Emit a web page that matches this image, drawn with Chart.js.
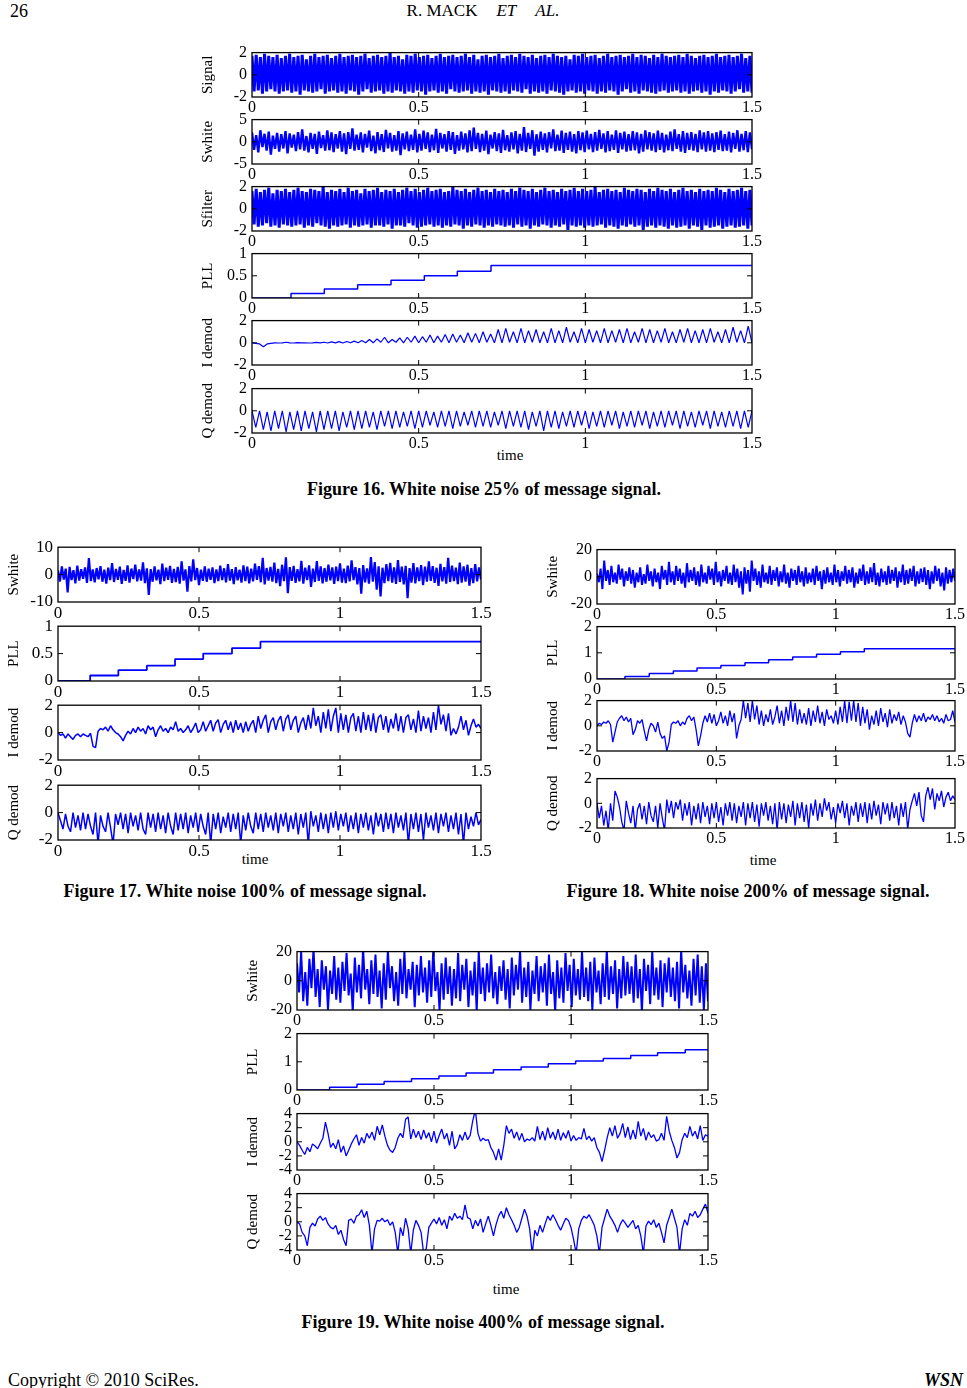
<!DOCTYPE html>
<html>
<head>
<meta charset="utf-8">
<script src="https://cdn.jsdelivr.net/npm/chart.js@4.4.0/dist/chart.umd.min.js"></script>
<style>
  html, body { margin: 0; padding: 0; background: #fff; }
  body { width: 967px; height: 1388px; position: relative; overflow: hidden;
         font-family: "Liberation Serif", "Times New Roman", serif; color: #000; }
  canvas { position: absolute; }
  .t { position: absolute; white-space: nowrap; line-height: 1; }
  .c { transform: translateX(-50%); }
  .cap { font-weight: bold; font-size: 18px; }
  .time { font-size: 15px; }
  .gap { margin-left: 19px; font-style: italic; }
</style>
</head>
<body>
<div class="t" style="left:10px;top:2px;font-size:18px">26</div>
<div class="t c" style="left:483px;top:2px;font-size:17px">R. MACK<span class="gap">ET</span><span class="gap">AL.</span></div>

<div class="t c time" style="left:510px;top:448px">time</div>
<div class="t c cap" style="left:484px;top:480px">Figure 16. White noise 25% of message signal.</div>

<div class="t c time" style="left:255px;top:852px">time</div>
<div class="t c cap" style="left:245px;top:882px">Figure 17. White noise 100% of message signal.</div>

<div class="t c time" style="left:763px;top:853px">time</div>
<div class="t c cap" style="left:748px;top:882px">Figure 18. White noise 200% of message signal.</div>

<div class="t c time" style="left:506px;top:1282px">time</div>
<div class="t c cap" style="left:483px;top:1313px">Figure 19. White noise 400% of message signal.</div>

<div class="t" style="left:8px;top:1371px;font-size:18px">Copyright © 2010 SciRes.</div>
<div class="t" style="left:924px;top:1371px;font-size:18px;font-weight:bold;font-style:italic">WSN</div>

<script>
// ---------- data (time axis 0..1.5 s, samples evenly spaced) ----------

// Figure 16
const sig16 = [
  1.7,-1.5,1.8,-1.4,1.6,-1.7,1.9,-1.5,1.7,-1.3,1.6,-1.5,1.8,-1.7,1.5,-1.5,1.7,-1.4,1.9,-1.6,
  1.6,-1.5,1.7,-1.8,1.8,-1.4,1.4,-1.5,1.7,-1.6,1.9,-1.5,1.6,-1.3,1.7,-1.7,1.8,-1.5,1.5,-1.4,
  1.7,-1.6,1.9,-1.5,1.6,-1.7,1.7,-1.4,1.8,-1.5,1.6,-1.8,1.7,-1.5,1.9,-1.3,1.5,-1.6,1.7,-1.5,
  1.8,-1.4,1.6,-1.7,1.7,-1.5,2.0,-1.6,1.6,-1.4,1.7,-1.5,1.4,-1.7,1.8,-1.5,1.7,-1.6,1.9,-1.4,
  1.6,-1.5,1.7,-1.8,1.8,-1.5,1.5,-1.4,1.7,-1.6,1.9,-1.5,1.6,-1.7,1.7,-1.3,1.8,-1.5,1.6,-1.6,
  1.7,-1.5,1.9,-1.4,1.6,-1.7,1.8,-1.5,1.4,-1.6,1.7,-1.5,1.8,-1.8,1.6,-1.4,1.7,-1.5,1.9,-1.6,
  1.5,-1.5,1.7,-1.7,1.8,-1.4,1.6,-1.5,1.9,-1.6,1.7,-1.3,1.6,-1.7,1.8,-1.5,1.5,-1.6,1.7,-1.5,
  1.8,-1.7,1.6,-1.4,1.9,-1.5,1.7,-1.6,1.6,-1.8,1.7,-1.5,1.4,-1.4,1.8,-1.6,1.7,-1.5,1.9,-1.7,
  1.6,-1.4,1.7,-1.5,1.8,-1.7,1.5,-1.5,1.7,-1.6,1.9,-1.4,1.6,-1.5,1.7,-1.8,1.8,-1.5,1.6,-1.3,
  1.7,-1.6,1.9,-1.5,1.6,-1.7,1.8,-1.4,1.7,-1.5,1.5,-1.6,1.8,-1.7,1.6,-1.5,1.9,-1.4,1.7,-1.6,
  1.6,-1.5,1.7,-1.4,1.8,-1.6,1.6,-1.5,1.9,-1.7,1.7,-1.5,1.5,-1.4,1.7,-1.6,1.8,-1.5,1.6,-1.8,
  1.7,-1.5,1.9,-1.6,1.6,-1.4,1.7,-1.5,1.8,-1.7,1.6,-1.5,1.7,-1.3,1.9,-1.6,1.5,-1.5,1.7,-1.6
];
const swhite16 = [
  2.1,-1.8,1.5,-2.4,2.6,-1.2,1.8,-2.0,2.3,-2.9,1.4,-1.6,2.0,-2.2,1.7,-1.5,2.4,-2.6,1.9,-1.3,
  1.6,-2.1,2.2,-1.7,2.8,-2.0,1.3,-2.4,2.0,-1.6,1.8,-2.7,2.3,-1.4,1.5,-2.0,2.6,-1.9,2.1,-2.3,
  1.7,-1.5,2.4,-2.2,1.9,-2.8,2.2,-1.6,3.0,-2.0,1.6,-1.8,2.1,-2.4,1.8,-1.3,2.5,-2.1,1.4,-2.6,
  2.2,-1.9,1.7,-2.3,2.7,-1.5,2.0,-2.2,1.5,-2.0,2.4,-3.0,1.9,-1.7,2.3,-2.1,1.6,-1.8,2.8,-2.4,
  1.8,-2.0,2.5,-1.6,2.1,-2.3,1.6,-1.9,2.9,-2.5,2.0,-1.5,1.7,-2.2,2.4,-1.8,2.2,-2.7,1.5,-2.0,
  2.3,-1.7,1.9,-2.4,2.6,-2.1,3.2,-1.6,2.0,-2.3,1.8,-2.0,2.5,-2.8,1.6,-1.5,2.2,-2.1,1.9,-2.5,
  2.7,-1.9,1.5,-2.2,2.1,-1.7,2.4,-2.6,1.8,-2.0,3.3,-2.3,2.0,-1.6,2.6,-3.1,1.7,-2.2,2.3,-1.8,
  1.9,-2.4,2.2,-1.5,2.8,-2.1,1.6,-2.0,2.5,-2.5,2.0,-1.8,2.3,-2.2,1.7,-2.6,2.4,-1.9,2.1,-2.3,
  2.5,-1.7,1.8,-2.3,2.2,-2.0,2.7,-1.6,1.9,-2.4,2.4,-2.1,1.6,-1.8,2.6,-2.5,2.0,-1.7,2.3,-2.2,
  1.7,-2.0,2.4,-1.9,2.1,-2.6,1.8,-2.2,2.6,-1.7,2.2,-2.0,1.9,-2.3,2.5,-1.8,2.0,-2.4,1.6,-1.9,
  2.3,-2.1,2.8,-1.6,1.7,-2.2,2.4,-2.5,2.0,-1.8,2.2,-2.0,1.8,-2.3,2.6,-1.7,2.1,-2.2,2.4,-2.0,
  1.9,-2.3,2.2,-1.8,2.5,-2.1,1.7,-2.0,2.3,-2.4,2.0,-1.6,2.6,-2.2,1.8,-1.9,2.4,-2.3,2.1,-1.7
];
const sfilt16 = [
  1.6,-1.4,1.8,-1.6,1.5,-1.5,1.7,-1.3,1.9,-1.6,1.4,-1.5,1.7,-1.7,1.6,-1.4,1.8,-1.5,1.5,-1.6,
  1.7,-1.5,1.9,-1.4,1.6,-1.7,1.5,-1.5,1.8,-1.6,1.7,-1.3,1.6,-1.5,2.0,-1.6,1.5,-1.8,1.7,-1.5,
  1.6,-1.6,1.8,-1.5,1.5,-1.4,1.9,-1.7,1.6,-1.5,1.7,-1.6,1.4,-1.5,1.8,-1.4,1.6,-1.7,1.7,-1.5,
  1.9,-1.5,1.5,-1.6,1.7,-1.4,1.6,-1.8,1.8,-1.5,1.5,-1.5,1.7,-1.6,1.9,-1.3,1.6,-1.5,1.8,-1.7,
  1.5,-1.6,1.7,-1.5,1.9,-1.4,1.6,-1.6,1.7,-1.5,1.8,-1.7,1.5,-1.5,1.6,-1.6,2.0,-1.4,1.7,-1.5,
  1.6,-1.8,1.8,-1.5,1.5,-1.6,1.7,-1.4,1.9,-1.5,1.6,-1.7,1.7,-1.5,1.5,-1.6,1.8,-1.4,1.6,-1.5,
  1.7,-1.6,1.5,-1.5,1.8,-1.7,1.6,-1.4,1.9,-1.6,1.7,-1.5,1.6,-1.8,1.8,-1.5,1.5,-1.6,1.7,-1.4,
  1.9,-1.5,1.6,-1.7,1.7,-1.5,1.5,-1.6,1.8,-1.4,1.6,-1.9,1.7,-1.5,1.9,-1.6,1.6,-1.5,1.8,-1.7,
  1.6,-1.5,1.7,-1.6,2.0,-1.5,1.5,-1.4,1.7,-1.7,1.8,-1.5,1.6,-1.6,1.7,-1.8,1.5,-1.5,1.9,-1.6,
  1.7,-1.4,1.6,-1.6,1.8,-1.5,1.7,-1.9,1.5,-1.6,1.8,-1.5,1.6,-1.7,1.9,-1.5,1.7,-1.6,1.6,-1.8,
  1.8,-1.5,1.5,-1.7,1.7,-1.6,1.9,-1.5,1.6,-1.8,1.7,-1.5,1.5,-1.6,1.8,-1.9,1.6,-1.5,1.7,-1.7,
  1.6,-1.6,1.9,-1.5,1.7,-1.8,1.5,-1.6,1.8,-1.5,1.6,-1.7,1.7,-1.6,1.9,-1.5,1.6,-1.8,1.7,-1.5
];
const pllT16 = [0, 0.117, 0.217, 0.317, 0.417, 0.517, 0.616, 0.717, 1.5];
const pllV16 = [0, 0.1, 0.2, 0.3, 0.4, 0.5, 0.6, 0.73, 0.73];
const idem16 = [
  0,-0.05,-0.1,-0.35,-0.1,-0.05,0,-0.02,0,0.05,0,-0.02,0.02,0,0,-0.02,0,0.03,0,0.05,-0.02,0.08,0,0.1,-0.02,0.12,0,
  0.15,0,0.2,0,0.3,0,0.35,0.05,0.5,0,0.3,0.05,0.45,
  0,0.5,0.05,0.6,0,0.55,0.05,0.7,0,0.6,0.05,0.75,0,
  0.8,0.05,0.7,0,0.9,0.05,0.85,0,1.0,0.05,0.8,0,1.2,0,
  1.3,0.05,1.0,0,1.3,0,1.1,0.05,1.2,0,1.0,0,1.3,
  0,1.1,0,1.4,0.05,1.0,0,1.3,0,1.2,0.05,1.1,0,
  1.3,0,1.1,0.05,1.2,0,1.3,0,1.0,0.05,1.3,0,1.2,
  0,1.1,0.05,1.3,0,1.0,0,1.2,0.05,1.3,0,1.1,0,
  1.2,0,1.3,0.05,1.0,0,1.2,0,1.4,0.05,1.1,0,1.5,0
];
const qdem16 = [
  0,-1.5,0,-1.7,-0.1,-1.8,0,-1.6,0,-1.9,-0.1,-1.7,0,-1.8,0,-1.6,-0.1,-1.9,0,-1.7,
  0,-1.6,0,-1.8,-0.1,-1.5,0,-1.7,0,-1.6,0,-1.5,-0.1,-1.7,0,-1.4,0,-1.6,0,-1.5,
  -0.1,-1.4,0,-1.6,0,-1.5,0,-1.3,-0.1,-1.5,0,-1.4,0,-1.6,0,-1.4,-0.1,-1.3,0,-1.5,
  0,-1.4,0,-1.5,-0.1,-1.3,0,-1.6,0,-1.4,0,-1.5,0,-1.7,-0.1,-1.4,0,-1.8,0,-1.5,
  0,-1.6,-0.1,-1.4,0,-1.5,0,-1.3,0,-1.6,-0.1,-1.4,0,-1.5,0,-1.3,0,-1.6,-0.1,-1.4,
  0,-1.5,0,-1.3,0,-1.6,-0.1,-1.4,0,-1.5,0,-1.3,0,-1.6,0,-1.4,-0.1,-1.5,0,-1.3,
  0,-1.6,0,-1.4,-0.1,-1.5,0,-1.4,0,-1.6,0,-1.5,0
];

// Figure 17
const swhite17 = [
  1.5,-2.5,3.0,-1.8,2.2,-6.5,2.8,-2.0,1.6,-3.2,3.3,-2.2,2.0,-1.5,2.6,-3.0,6.0,-2.4,1.9,-2.8,
  2.4,-1.7,3.1,-2.6,1.8,-3.3,2.5,-2.0,4.2,-2.7,2.1,-1.9,2.9,-3.4,1.7,-2.3,3.4,-2.9,2.2,-1.6,
  3.6,-2.5,1.9,-2.2,4.5,-3.1,2.3,-7.4,2.0,-2.6,3.0,-2.1,1.8,-3.5,4.0,-2.4,2.5,-1.9,3.2,-3.0,
  2.1,-2.7,2.8,-3.3,4.8,-2.2,1.9,-6.2,3.1,-2.5,5.6,-2.0,2.4,-3.8,1.8,-2.3,3.0,-2.6,2.2,-1.9,
  2.6,-3.1,1.9,-2.4,3.3,-2.0,2.3,-2.8,3.8,-2.2,2.0,-3.5,2.7,-2.1,1.8,-2.9,3.4,-2.4,2.9,-3.2,
  2.2,-2.5,4.0,-1.9,3.1,-2.8,6.1,-3.6,2.4,-2.2,2.8,-2.6,4.4,-3.1,2.1,-4.2,3.6,-2.4,6.3,-6.8,
  2.7,-2.3,3.2,-3.0,2.0,-2.5,5.0,-3.3,2.5,-2.0,3.4,-4.5,2.2,-2.7,4.9,-2.3,3.0,-3.2,2.4,-2.6,
  3.6,-2.1,2.6,-3.4,2.9,-2.4,4.1,-2.9,2.2,-3.1,3.3,-2.5,5.2,-2.0,2.7,-3.6,2.4,-7.0,3.5,-2.8,
  2.3,-3.3,6.4,-2.6,4.6,-5.5,3.0,-8.0,2.5,-3.1,3.8,-2.4,4.3,-2.9,2.6,-3.4,5.3,-2.7,2.9,-3.6,
  3.2,-8.6,2.4,-2.9,4.2,-3.2,2.6,-2.4,3.5,-3.8,2.9,-2.6,4.8,-2.3,3.1,-3.0,2.5,-4.1,3.9,-2.5,
  2.7,-3.3,6.1,-2.7,3.3,-2.4,2.5,-3.5,4.4,-2.9,3.0,-2.6,3.6,-4.0,2.4,-3.1,3.8,-2.5,2.6,-1.8
];
const pllT17 = [0, 0.114, 0.214, 0.315, 0.415, 0.515, 0.617, 0.718, 1.5];
const pllV17 = [0, 0.1, 0.2, 0.28, 0.4, 0.5, 0.6, 0.72, 0.72];
const idem17 = [
  0,-0.2,-0.1,-0.4,-0.1,-0.3,-0.5,-0.2,-0.1,-0.3,
  -0.1,-0.2,-0.3,-0.05,-1.0,-1.1,0.1,0.3,0.2,0.4,
  0.1,0.5,0.2,0.0,-0.1,-0.3,-0.6,-0.2,0.1,-0.1,
  0.3,0.0,0.4,0.1,0.3,-0.1,0.5,0.2,0.4,-0.3,
  0.2,0.5,0.1,0.3,0.0,0.4,0.2,0.8,0.1,0.3,
  0.0,0.2,0.5,0.0,0.3,0.7,0.0,0.2,0.8,0.1,
  0.5,0.9,0.1,0.7,0.95,0.0,0.6,0.9,0.2,0.8,
  0.0,0.9,0.2,0.7,0.0,0.8,0.1,0.6,0.9,0.0,
  1.2,0.3,0.9,1.3,0.0,0.8,1.1,0.2,0.9,1.2,
  0.1,1.0,1.3,0.2,0.9,1.2,0.0,0.7,1.1,0.2,
  1.3,0.3,1.8,0.5,1.2,0.0,1.5,0.3,1.7,0.1,
  1.2,1.8,0.0,1.4,0.2,1.3,0.0,1.1,1.4,0.1,
  1.2,0.0,1.5,0.2,1.3,0.1,1.4,0.0,1.1,1.3,
  0.2,1.2,0.0,1.0,0.3,1.4,0.1,1.2,0.0,1.1,
  1.3,0.2,1.0,0.0,1.6,0.1,1.2,0.3,1.1,0.0,
  1.5,0.2,2.0,0.6,1.3,0.1,1.4,-0.2,0.3,-0.1,
  0.4,1.2,0.2,0.9,-0.2,0.5,1.0,0.4,0.6,0.3
];
const qdem17 = [
  0,-0.6,-1.2,-0.1,-1.0,-1.4,0,-1.1,-0.2,-1.3,
  0,-1.2,-0.1,-1.0,-1.6,0,-2.3,-0.2,-1.0,-1.4,
  0,-1.1,-2.3,-0.1,-0.9,0,-1.2,-0.1,-1.5,0,
  -1.0,-0.2,-1.3,0,-1.2,-1.6,0,-1.1,-0.1,-1.4,
  0,-1.2,-0.2,-1.5,0,-1.0,-1.6,0,-1.3,-0.1,
  -1.2,0,-1.5,-0.2,-1.1,0,-1.4,-0.1,-1.0,-1.6,
  0,-2.3,-0.1,-1.2,0,-1.5,-0.3,-1.1,0,-1.4,
  -0.1,-1.2,0,-2.3,-0.2,-1.3,0,-1.0,-1.5,0,
  -1.2,-0.1,-1.4,0,-1.1,-0.2,-1.3,0,-1.5,-0.1,
  -1.0,0,-1.4,-0.2,-1.2,0,-1.6,-0.1,-1.1,0,
  -2.3,0.1,-1.0,-0.2,-1.4,0,-1.2,-0.1,-1.5,0,
  -1.1,0.1,-1.3,-0.1,-1.0,0,-1.4,-0.2,-1.2,0,
  -1.5,-0.1,-1.1,0,-1.3,-0.2,-1.6,0,-1.0,-0.1,
  -1.4,0,-1.2,-0.1,-1.5,0,-1.1,-0.2,-1.3,0,
  -2.3,-0.1,-1.2,0,-1.4,-0.1,-2.0,0,-1.1,-0.2,
  -1.3,0,-1.5,-0.1,-1.0,0,-1.4,-0.2,-1.2,0,
  -1.6,-0.1,-2.3,0,-1.2,-0.3,-1.0,0,-0.9,-0.5
];

// Figure 18
const swhite18 = [
  2,-4,6,-9,12,-3,5,-6,8,-4,3,-5,9,-2,6,-7,4,-3,7,-5,
  5,-8,3,-4,7,-6,2,-5,9,-3,4,-7,6,-4,3,-9,8,-2,5,-6,
  11,-4,4,-6,8,-3,6,-5,3,-8,10,-4,5,-3,7,-6,4,-7,9,-4,
  3,-5,8,-2,6,-6,11,-4,4,-7,5,-3,8,-5,3,-6,9,-4,6,-8,
  4,-13,7,-5,5,-11,12,-3,6,-6,4,-8,9,-4,3,-5,8,-6,5,-3,
  7,-7,4,-4,9,-5,3,-8,6,-3,5,-6,8,-4,4,-7,7,-5,3,-4,
  6,-6,8,-3,4,-9,5,-5,7,-4,3,-6,9,-4,5,-7,4,-3,8,-5,
  5,-4,7,-8,3,-5,6,-3,9,-6,4,-5,7,-4,10,-6,3,-7,6,-4,
  4,-6,8,-5,5,-3,7,-8,4,-4,9,-6,5,-5,6,-3,8,-7,4,-5,
  6,-4,7,-6,5,-9,4,-5,8,-3,6,-7,3,-10,7,-5,5,-4,6,-3
];
const pllT18 = [0, 0.117, 0.219, 0.32, 0.419, 0.519, 0.62, 0.719, 0.82, 0.92, 1.02, 1.12, 1.5];
const pllV18 = [0, 0.1, 0.21, 0.31, 0.42, 0.52, 0.62, 0.73, 0.84, 0.94, 1.04, 1.15, 1.15];
const idem18 = [
  0,0.2,0.1,0.3,0.2,0.4,0.1,-1.3,-0.5,0.3,
  0.6,0.8,0.4,0.7,0.3,0.6,-0.7,-0.3,0.4,0.2,
  0.5,-0.4,-1.2,-0.3,0.2,0.0,-0.5,0.3,-0.6,-1.0,
  -0.8,-2.0,-1.3,0.1,0.3,0.2,0.4,0.0,0.3,0.1,
  0.6,0.8,0.4,0.7,-0.3,-1.6,-0.8,0.2,0.8,0.3,
  1.0,0.2,0.9,0.0,0.4,1.1,0.2,0.8,0.0,1.2,
  0.3,1.0,-1.0,0.0,0.5,2.0,0.6,1.8,0.3,2.0,
  0.5,1.6,0.1,1.2,0.0,0.9,0.3,1.3,0.1,0.7,
  1.6,0.2,1.2,0.0,1.5,0.4,2.0,0.3,1.8,0.1,
  1.3,0.2,1.0,0.1,1.4,0.0,1.2,0.3,1.6,0.2,
  1.1,0.0,1.3,0.5,0.8,0.2,1.2,0.1,1.5,0.3,
  2.0,0.2,1.9,0.4,2.0,0.3,1.8,0.0,1.5,0.2,
  1.3,-0.3,0.8,0.1,1.2,0.0,1.4,0.3,1.0,-0.1,
  1.3,0.2,0.9,0.4,1.1,0.1,0.8,0.3,-0.6,-0.9,
  0.2,0.9,0.3,0.8,0.4,1.0,0.3,0.7,0.5,0.9,
  0.4,0.8,0.3,0.6,0.2,0.9,0.4,0.5,1.2,0.3
];
const qdem18 = [
  0,-1.2,-0.2,-1.8,-0.6,-2.2,0.0,-1.4,1.0,0.5,
  -0.3,-1.5,-2.2,0.2,-0.8,-1.6,-0.2,-2.2,-0.5,0.0,
  -1.3,-0.2,-1.7,0.1,-1.0,-1.5,-0.2,-2.0,0.0,-1.2,
  -2.2,0.3,-0.8,0.2,-1.2,0.1,-0.5,0.3,-1.4,0.0,
  -1.0,0.1,-1.8,-0.2,-1.3,0.0,-1.6,0.1,-1.1,-0.2,
  -1.7,0.0,-1.2,0.1,-1.5,-0.3,-1.8,0.0,-1.0,0.1,
  -1.4,0.0,-1.6,-0.2,-1.1,0.1,-1.8,0.0,-1.2,0.1,
  -1.5,-0.1,-1.9,0.0,-1.0,0.1,-1.4,-0.2,-1.7,0.0,
  -2.2,0.1,-1.3,0.0,-1.6,-0.1,-1.1,0.2,-1.8,0.0,
  -1.2,0.1,-1.5,-0.1,-2.0,0.0,-1.0,0.3,-1.4,0.0,
  -1.1,0.4,-0.6,0.1,-1.3,-0.3,-1.6,0.0,-0.8,0.2,
  -1.2,0.0,-1.8,-0.2,-1.0,0.1,-1.5,0.0,-1.1,0.1,
  -1.6,0.0,-1.3,0.2,-1.0,-0.1,-1.7,0.1,-0.9,0.0,
  -1.4,0.1,-1.2,-0.2,-1.8,0.0,-1.1,0.1,-2.1,-0.5,
  0.2,0.8,-0.2,0.9,-1.0,-1.5,0.6,1.3,0.3,1.2,
  -0.5,0.8,0.2,1.0,-0.3,0.5,0.9,0.2,0.6,0.3
];

// Figure 19
const swhite19 = [
  12,-8,20,-14,6,-17,15,-5,22,-11,8,-18,14,-6,10,-20,7,-9,17,-13,
  9,-15,13,-7,19,-10,5,-21,16,-8,11,-12,22,-6,8,-16,14,-9,18,-11,
  7,-19,12,-13,21,-5,10,-14,6,-17,15,-9,20,-12,8,-6,13,-18,11,-10,
  17,-8,9,-15,14,-11,22,-7,6,-20,12,-13,16,-9,10,-17,8,-12,19,-14,
  11,-6,15,-18,7,-10,13,-21,20,-9,9,-14,12,-8,18,-12,6,-16,10,-7,
  14,-13,8,-19,16,-10,11,-6,21,-15,9,-11,13,-20,7,-9,17,-14,10,-8,
  12,-17,18,-9,6,-21,14,-12,9,-15,19,-7,11,-18,15,-10,8,-13,20,-11,
  9,-14,13,-20,16,-8,7,-16,12,-11,21,-13,10,-9,14,-19,8,-12,17,-10,
  13,-9,10,-15,18,-12,8,-21,15,-7,11,-16,20,-10,9,-13,14,-18,12,-8,
  16,-11,9,-14,13,-19,21,-8,11,-12,7,-17,15,-10,18,-15,10,-20,12,-14
];
const pllT19 = [0, 0.119, 0.219, 0.318, 0.418, 0.518, 0.617, 0.717, 0.818, 0.917, 1.017, 1.118, 1.218, 1.316, 1.417, 1.5];
const pllV19 = [0, 0.1, 0.2, 0.3, 0.4, 0.5, 0.6, 0.72, 0.82, 0.93, 1.03, 1.12, 1.22, 1.32, 1.43, 1.43];
const idem19 = [
  0,-0.5,-1.2,-1.8,-0.8,-1.4,-0.3,-0.6,-1.0,-0.2,
  0.5,2.8,1.2,-0.8,-0.2,-1.0,0.3,-1.5,-0.6,-2.0,
  -1.2,-0.3,0.4,1.0,-0.5,0.6,-0.2,1.2,0.5,1.4,
  0.2,2.2,1.0,2.4,0.8,-0.5,-1.2,-1.5,-0.8,0.5,
  1.2,0.6,3.2,3.5,0.4,1.8,0.6,1.5,0.3,1.7,
  0.5,1.3,0.0,1.5,-0.2,0.9,1.8,0.4,1.2,-0.5,
  1.5,-1.0,-0.4,1.0,0.2,1.4,0.3,0.9,3.0,4.5,
  1.2,0.1,0.5,0.2,0.3,-0.8,-1.5,-2.6,-1.0,-2.6,
  -0.5,2.3,1.2,1.8,0.5,1.4,0.2,1.2,0.0,0.4,
  0.2,0.6,0.1,2.2,0.3,1.5,0.2,2.0,0.5,1.4,
  0.3,1.8,0.2,1.3,0.5,1.6,0.1,0.9,0.2,0.6,
  0.4,1.9,0.3,0.8,0.1,0.6,-0.8,-1.5,-2.8,-1.2,
  0.6,2.0,0.8,2.3,0.5,1.2,2.6,0.6,2.1,0.3,
  1.7,0.4,2.9,0.8,1.9,0.2,1.4,0.6,1.0,0.1,
  0.3,1.2,0.2,3.6,1.5,0.2,-0.8,-2.3,-1.5,0.3,
  1.2,0.6,2.2,0.8,1.5,0.4,2.3,0.2,1.0,0.8
];
const qdem19 = [
  0,-0.3,-1.5,-2.0,-3.4,-0.8,-0.2,-0.6,0.4,0.8,
  0.2,0.6,-0.3,-0.8,-1.0,-0.5,-1.8,-1.2,-2.5,-3.4,
  0.2,0.4,-0.2,0.8,1.0,1.7,0.6,1.5,-0.5,-4.5,
  -1.0,0.2,0.1,0.5,0.0,0.3,-0.5,0.0,-1.5,-4.5,
  -0.8,-2.0,0.5,-1.0,-4.5,-1.2,0.2,-0.5,-1.5,-4.5,
  -3.8,-0.8,-0.2,0.4,-0.3,0.6,-0.5,0.3,-1.0,0.8,
  0.2,1.2,0.5,0.8,0.3,2.4,0.6,0.4,-1.0,0.2,
  -0.6,0.4,-1.5,-0.3,0.8,-0.5,-2.0,-0.4,0.8,1.5,
  0.5,2.0,1.0,0.3,-0.5,-1.5,-0.8,0.5,1.8,0.8,
  -1.0,-4.5,-1.2,-2.0,-0.5,-1.5,-0.3,0.8,0.2,1.0,
  0.3,-0.5,-1.2,-0.3,0.5,0.2,-0.8,-2.5,-4.5,-1.0,
  0.2,0.8,0.5,1.0,0.3,-0.5,-2.0,-4.5,-0.8,0.5,
  1.8,0.8,0.2,-0.5,-1.5,-0.4,0.3,-0.2,-0.8,-0.3,
  0.2,-1.0,-0.5,-2.0,-4.5,-0.6,0.1,-0.4,0.3,-0.8,
  -0.2,-1.5,-3.0,-0.5,0.6,1.8,0.5,-0.8,-4.5,-1.0,
  0.3,-0.5,1.2,0.8,1.5,0.6,1.0,1.8,2.5,1.2
];

// ---------- drawing ----------
const BLUE = '#0000ff';
const FONT = "'Liberation Serif', 'Times New Roman', serif";
const LW = 60, PT = 12, PR = 16, BH = 20;

function series(vals) {
  return vals.map((v, i) => ({ x: 1.5 * i / (vals.length - 1), y: v }));
}
function steps(ts, vs) {
  return ts.map((t, i) => ({ x: t, y: vs[i] }));
}
function fmt(v) { return String(Math.round(v * 100) / 100); }

// black frame with inward ticks, like the MATLAB axes
const frame = {
  id: 'frame',
  afterDraw(chart) {
    const { ctx, chartArea: a, scales: { x, y } } = chart;
    ctx.save();
    ctx.strokeStyle = '#000';
    ctx.lineWidth = 1.3;
    ctx.strokeRect(a.left, a.top, a.right - a.left, a.bottom - a.top);
    ctx.lineWidth = 1;
    ctx.beginPath();
    x.ticks.forEach(t => {
      const px = x.getPixelForValue(t.value);
      if (px <= a.left + 1 || px >= a.right - 1) return;
      ctx.moveTo(px, a.bottom); ctx.lineTo(px, a.bottom - 5);
      ctx.moveTo(px, a.top); ctx.lineTo(px, a.top + 5);
    });
    y.ticks.forEach(t => {
      const py = y.getPixelForValue(t.value);
      if (py <= a.top + 1 || py >= a.bottom - 1) return;
      ctx.moveTo(a.left, py); ctx.lineTo(a.left + 5, py);
      ctx.moveTo(a.right, py); ctx.lineTo(a.right - 5, py);
    });
    ctx.stroke();
    ctx.restore();
  }
};

function subplot(box, label, yMin, yMax, yStep, points, opts) {
  opts = opts || {};
  const c = document.createElement('canvas');
  const w = box[2] + LW + PR, h = box[3] + PT + BH;
  c.width = w; c.height = h;
  c.style.left = (box[0] - LW) + 'px';
  c.style.top = (box[1] - PT) + 'px';
  c.style.width = w + 'px';
  c.style.height = h + 'px';
  document.body.appendChild(c);
  const tickFont = { family: FONT, size: opts.tick || 16 };
  new Chart(c, {
    type: 'line',
    data: {
      datasets: [{
        data: points,
        borderColor: BLUE,
        borderWidth: opts.bw || 1.2,
        borderJoinStyle: 'bevel',
        pointRadius: 0,
        tension: 0,
        stepped: opts.stepped || false,
        clip: 0
      }]
    },
    options: {
      responsive: false,
      animation: false,
      events: [],
      layout: { padding: { top: PT, right: PR, left: 0, bottom: 0 } },
      plugins: { legend: { display: false }, tooltip: { enabled: false } },
      scales: {
        x: {
          type: 'linear', min: 0, max: 1.5,
          afterFit: s => { s.height = BH; },
          grid: { display: false, drawTicks: false },
          border: { display: false },
          ticks: { stepSize: 0.5, padding: 1, color: '#000', font: tickFont,
                   maxRotation: 0, autoSkip: false, callback: fmt }
        },
        y: {
          type: 'linear', min: yMin, max: yMax,
          afterFit: s => { s.width = LW; },
          grid: { display: false, drawTicks: false },
          border: { display: false },
          ticks: { stepSize: yStep, padding: 5, color: '#000', font: tickFont,
                   autoSkip: false, callback: fmt },
          title: { display: true, text: label, color: '#000',
                   font: { family: FONT, size: 15 }, padding: { top: 7, bottom: 0 } }
        }
      }
    },
    plugins: [frame]
  });
}

// Figure 16  [left, top, width, height]
subplot([252, 50, 500, 47], 'Signal', -2, 2, 2, series(sig16), { bw: 3 });
subplot([252, 117, 500, 47], 'Swhite', -5, 5, 5, series(swhite16), { bw: 2.4 });
subplot([252, 184, 500, 47], 'Sfilter', -2, 2, 2, series(sfilt16), { bw: 3 });
subplot([252, 251, 500, 47], 'PLL', 0, 1, 0.5, steps(pllT16, pllV16), { stepped: true, bw: 1.5 });
subplot([252, 318, 500, 47], 'I demod', -2, 2, 2, series(idem16), { bw: 1.2 });
subplot([252, 386, 500, 47], 'Q demod', -2, 2, 2, series(qdem16), { bw: 1.2 });

// Figure 17
subplot([58, 544, 423, 58], 'Swhite', -10, 10, 10, series(swhite17), { bw: 2.2, tick: 17 });
subplot([58, 623, 423, 58], 'PLL', 0, 1, 0.5, steps(pllT17, pllV17), { stepped: true, bw: 1.8, tick: 17 });
subplot([58, 702, 423, 58], 'I demod', -2, 2, 2, series(idem17), { bw: 1.5, tick: 17 });
subplot([58, 782, 423, 58], 'Q demod', -2, 2, 2, series(qdem17), { bw: 1.5, tick: 17 });

// Figure 18
subplot([597, 547, 358, 57], 'Swhite', -20, 20, 20, series(swhite18), { bw: 2 });
subplot([597, 624, 358, 55], 'PLL', 0, 2, 1, steps(pllT18, pllV18), { stepped: true, bw: 1.5 });
subplot([597, 698, 358, 53], 'I demod', -2, 2, 2, series(idem18), { bw: 1.3 });
subplot([597, 776, 358, 52], 'Q demod', -2, 2, 2, series(qdem18), { bw: 1.3 });

// Figure 19
subplot([297, 949, 411, 61], 'Swhite', -20, 20, 20, series(swhite19), { bw: 2 });
subplot([297, 1031, 411, 59], 'PLL', 0, 2, 1, steps(pllT19, pllV19), { stepped: true, bw: 1.5 });
subplot([297, 1111, 411, 59], 'I demod', -4, 4, 2, series(idem19), { bw: 1.3 });
subplot([297, 1191, 411, 59], 'Q demod', -4, 4, 2, series(qdem19), { bw: 1.3 });
</script>
</body>
</html>
